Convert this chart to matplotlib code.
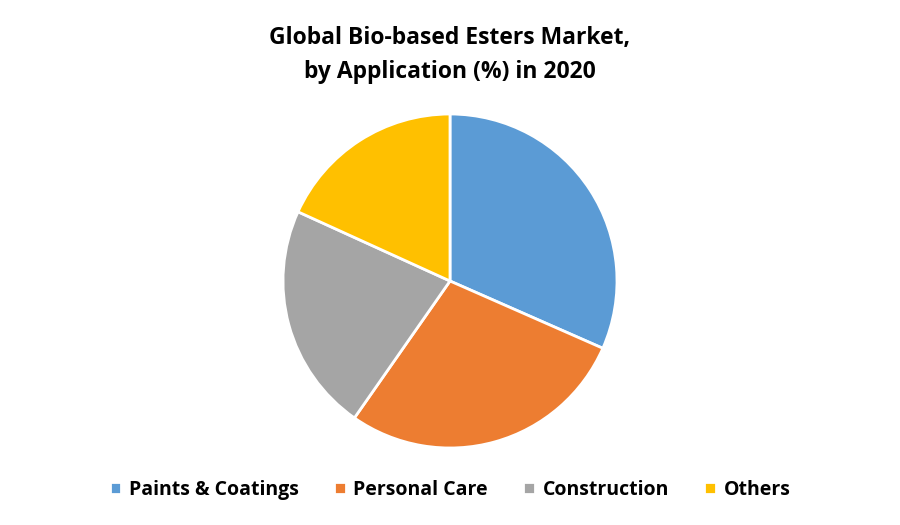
import matplotlib
matplotlib.use("Agg")
import matplotlib.pyplot as plt

labels = ["Paints & Coatings", "Personal Care", "Construction", "Others"]
values = [31.6, 28.1, 22.1, 18.2]
colors = ["#5B9BD5", "#ED7D31", "#A5A5A5", "#FFC000"]

plt.rcParams['font.family'] = ['Open Sans', 'DejaVu Sans']
fig = plt.figure(figsize=(9, 5.25), dpi=100)
ax = fig.add_axes([(450 - 167) / 900, 1 - (281 + 167) / 525, 334 / 900, 334 / 525])
wedges, _ = ax.pie(values, colors=colors, startangle=90, counterclock=False,
                   wedgeprops=dict(edgecolor="white", linewidth=2))
ax.set_xlim(-1, 1)
ax.set_ylim(-1, 1)
ax.set_aspect('equal')
fig.text(0.5, 1 - 38/525, "Global Bio-based Esters Market,", ha='center', va='center',
         fontsize=16.5, fontweight='bold')
fig.text(0.5, 1 - 72/525, "by Application (%) in 2020", ha='center', va='center',
         fontsize=16.5, fontweight='bold')
fig.legend(wedges, labels, loc='center', bbox_to_anchor=(0.5, 1 - 490/525), ncol=4,
           frameon=False, handlelength=0.6, handleheight=0.6,
           columnspacing=1.8, handletextpad=0.4, prop={'weight': 'bold', 'size': 14})
fig.savefig("out.png", dpi=100)
